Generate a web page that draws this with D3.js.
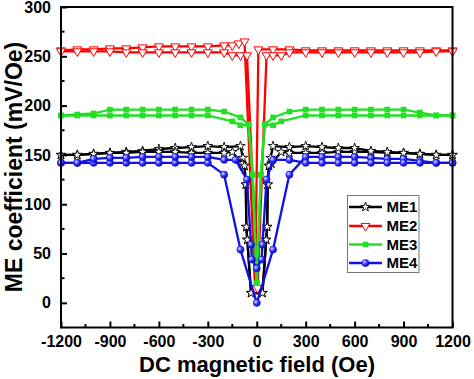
<!DOCTYPE html>
<html><head><meta charset="utf-8">
<script src="https://cdn.jsdelivr.net/npm/d3@7"></script>
<style>body{margin:0;background:#fff}svg{display:block}text{font-family:"Liberation Sans",Arial,sans-serif;font-weight:bold}</style>
</head><body><svg id="c" width="474" height="379"></svg>
<script>
const xTicks = [-1200,-900,-600,-300,0,300,600,900,1200];
const yTicks = [0,50,100,150,200,250,300];
const seriesNames = ["ME1","ME2","ME3","ME4"];

const me1Up = [[-1200,150],[-1100,150],[-1000,151],[-900,152],[-800,153],[-700,154],[-600,156],[-500,157],[-400,158],[-300,159],[-200,158],[-100,159],[-85,147],[-75,139],[-67,120],[-64,77],[-58,64],[-35,10],[35,10],[58,64],[64,77],[67,120],[75,139],[90,141],[150,153],[200,152],[300,152],[400,152],[500,153],[600,153],[700,153],[800,152],[900,152],[1000,151],[1100,150],[1200,150]];
const me1Down = [[-1200,150],[-1100,150],[-1000,151],[-900,152],[-800,152],[-700,153],[-600,153],[-500,153],[-400,152],[-300,152],[-200,152],[-150,153],[-90,141],[-75,139],[-67,120],[-64,77],[-58,64],[-35,10],[35,10],[58,64],[64,77],[67,120],[75,139],[85,147],[100,159],[200,158],[300,159],[400,158],[500,157],[600,157],[700,154],[800,153],[900,152],[1000,151],[1100,150],[1200,150]];

const me2Up = [[-1200,256],[-1100,257],[-1000,257],[-900,258],[-800,258],[-700,259],[-600,260],[-500,260],[-400,260],[-300,260],[-200,261],[-150,261],[-110,263],[-75,265],[-10,15],[10,257],[100,257],[200,257],[300,256],[400,256],[500,256],[600,256],[700,256],[800,256],[900,256],[1000,256],[1100,256],[1200,256]];
const me2Down = [[-1200,255],[-1100,255],[-1000,255],[-900,255],[-800,254],[-700,254],[-600,254],[-500,254],[-400,254],[-300,254],[-200,254],[-150,251],[-100,251],[-60,251],[5,15],[60,251],[100,251],[150,251],[200,254],[300,254],[400,254],[500,254],[600,254],[700,254],[800,254],[900,254],[1000,254],[1100,255],[1200,255]];

const me3Up = [[-1200,190],[-1100,191],[-1000,192],[-900,196],[-800,196],[-700,196],[-600,196],[-500,196],[-400,196],[-300,196],[-200,194],[-100,188],[-50,181],[-25,130],[0,20],[25,130],[50,181],[100,180],[150,184],[300,190],[400,190],[500,190],[600,190],[700,190],[800,190],[900,190],[1000,190],[1100,190],[1200,190]];
const me3Down = [[-1200,190],[-1100,190],[-1000,190],[-900,190],[-800,190],[-700,190],[-600,190],[-500,190],[-400,190],[-300,190],[-150,184],[-100,180],[-50,181],[-25,130],[0,20],[25,130],[50,181],[100,188],[200,194],[300,196],[400,196],[500,196],[600,196],[700,196],[800,196],[900,196],[1000,193],[1100,190],[1200,190]];

const me4Up = [[-1200,142],[-1100,142],[-1000,142],[-900,142],[-800,142],[-700,142],[-600,142],[-500,142],[-400,142],[-300,142],[-200,130],[-100,54],[0,0],[100,54],[200,130],[300,148],[400,148],[500,148],[600,148],[700,147],[800,146],[900,146],[1000,144],[1100,142],[1200,142]];
const me4Down = [[-1200,142],[-1100,142],[-1000,146],[-900,147],[-800,147],[-700,148],[-600,148],[-500,148],[-400,148],[-300,148],[-200,145],[-130,145],[-60,125],[-35,59],[-30,44],[0,35],[30,44],[35,59],[60,125],[100,145],[200,145],[300,142],[400,142],[500,142],[600,142],[700,142],[800,142],[900,142],[1000,142],[1100,142],[1200,142]];

const svg = d3.select("#c");
const x = d3.scaleLinear().domain([-1200,1200]).range([61,452.5]);
const y = d3.scaleLinear().domain([-25,300]).range([327.5,7]);

const defs = svg.append("defs");
const g = defs.append("radialGradient").attr("id","ball").attr("cx","35%").attr("cy","35%").attr("r","65%");
g.append("stop").attr("offset","0%").attr("stop-color","#e8e8ff");
g.append("stop").attr("offset","45%").attr("stop-color","#4a4aff");
g.append("stop").attr("offset","100%").attr("stop-color","#0000c8");

const styles = [
  {color:"#000000", sym:d3.symbolStar, size:28, fill:"#ffffff", rot:0, sw:0.9},
  {color:"#ff0000", sym:d3.symbolTriangle, size:34, fill:"#ffffff", rot:180, sw:1},
  {color:"#22e022", sym:d3.symbolSquare, size:32, fill:"#22e022", rot:0, sw:0},
  {color:"#1010e8", sym:d3.symbolCircle, size:40, fill:"url(#ball)", rot:0, sw:0.6}
];
const data = [[me1Up,me1Down],[me2Up,me2Down],[me3Up,me3Down],[me4Up,me4Down]];

const plot = svg.append("g");
const line = d3.line().x(d=>x(d[0])).y(d=>y(d[1]));

data.forEach((branches,i)=>{
  const s = styles[i];
  const gg = plot.append("g");
  branches.forEach(b=>{
    gg.append("path").attr("d",line(b)).attr("fill","none").attr("stroke",s.color).attr("stroke-width",2.3).attr("stroke-linejoin","round");
  });
  branches.forEach(b=>{
    gg.selectAll(null).data(b).enter().append("path")
      .attr("d",d3.symbol(s.sym).size(s.size)())
      .attr("transform",d=>`translate(${x(d[0])},${y(d[1])}) rotate(${s.rot})`)
      .attr("fill",s.fill).attr("stroke",s.color).attr("stroke-width",s.sw);
  });
});

// axes
const fmt = d => String(d);
const xAxis = d3.axisBottom(x).tickValues(xTicks).tickSize(-6).tickPadding(8).tickFormat(fmt);
const gx = svg.append("g").attr("transform","translate(0,327.5)").call(xAxis);
const yAxis = d3.axisLeft(y).tickValues(yTicks).tickSize(-6).tickPadding(10).tickFormat(fmt);
const gy = svg.append("g").attr("transform","translate(61,0)").call(yAxis);
[gx,gy].forEach(ga=>{
  ga.select(".domain").remove();
  ga.selectAll(".tick line").attr("stroke","#000").attr("stroke-width",2);
  ga.selectAll(".tick text").attr("fill","#000").style("font-size","16px").style("font-weight","bold").style("font-family","'Liberation Sans',Arial,sans-serif");
});
gx.selectAll(".tick text").attr("dy","0.71em");
// minor ticks
const xMinor = xTicks.slice(0,-1).map(v=>v+150);
const yMinor = [25,75,125,175,225,275];
svg.append("g").selectAll("line").data(xMinor).enter().append("line")
  .attr("x1",d=>x(d)).attr("x2",d=>x(d)).attr("y1",327.5).attr("y2",324).attr("stroke","#000").attr("stroke-width",2);
svg.append("g").selectAll("line").data(yMinor).enter().append("line")
  .attr("y1",d=>y(d)).attr("y2",d=>y(d)).attr("x1",61).attr("x2",64.5).attr("stroke","#000").attr("stroke-width",2);
// frame
svg.append("rect").attr("x",61).attr("y",7).attr("width",391.5).attr("height",320.5).attr("fill","none").attr("stroke","#000").attr("stroke-width",2);

// axis titles
svg.append("text").attr("x",257).attr("y",372).attr("text-anchor","middle").style("font-size","22px").text("DC magnetic field (Oe)");
svg.append("text").attr("transform","translate(13.5,167) rotate(-90)").attr("text-anchor","middle").attr("dy","0.35em").style("font-size","23px").text("ME coefficient (mV/Oe)");

// legend
const lg = svg.append("g");
lg.append("rect").attr("x",347.5).attr("y",195.5).attr("width",71.5).attr("height",77).attr("fill","#fff").attr("stroke","#777").attr("stroke-width",1);
const ly = [207,226,244.5,263];
seriesNames.forEach((n,i)=>{
  const s = styles[i];
  lg.append("line").attr("x1",349).attr("x2",382).attr("y1",ly[i]).attr("y2",ly[i]).attr("stroke",s.color).attr("stroke-width",2.3);
  lg.append("path").attr("d",d3.symbol(s.sym).size(s.size)()).attr("transform",`translate(365.5,${ly[i]}) rotate(${s.rot})`)
    .attr("fill",s.fill).attr("stroke",s.color).attr("stroke-width",s.sw);
  lg.append("text").attr("x",386.5).attr("y",ly[i]).attr("dy","0.36em").style("font-size","15px").text(n);
});
</script></body></html>
